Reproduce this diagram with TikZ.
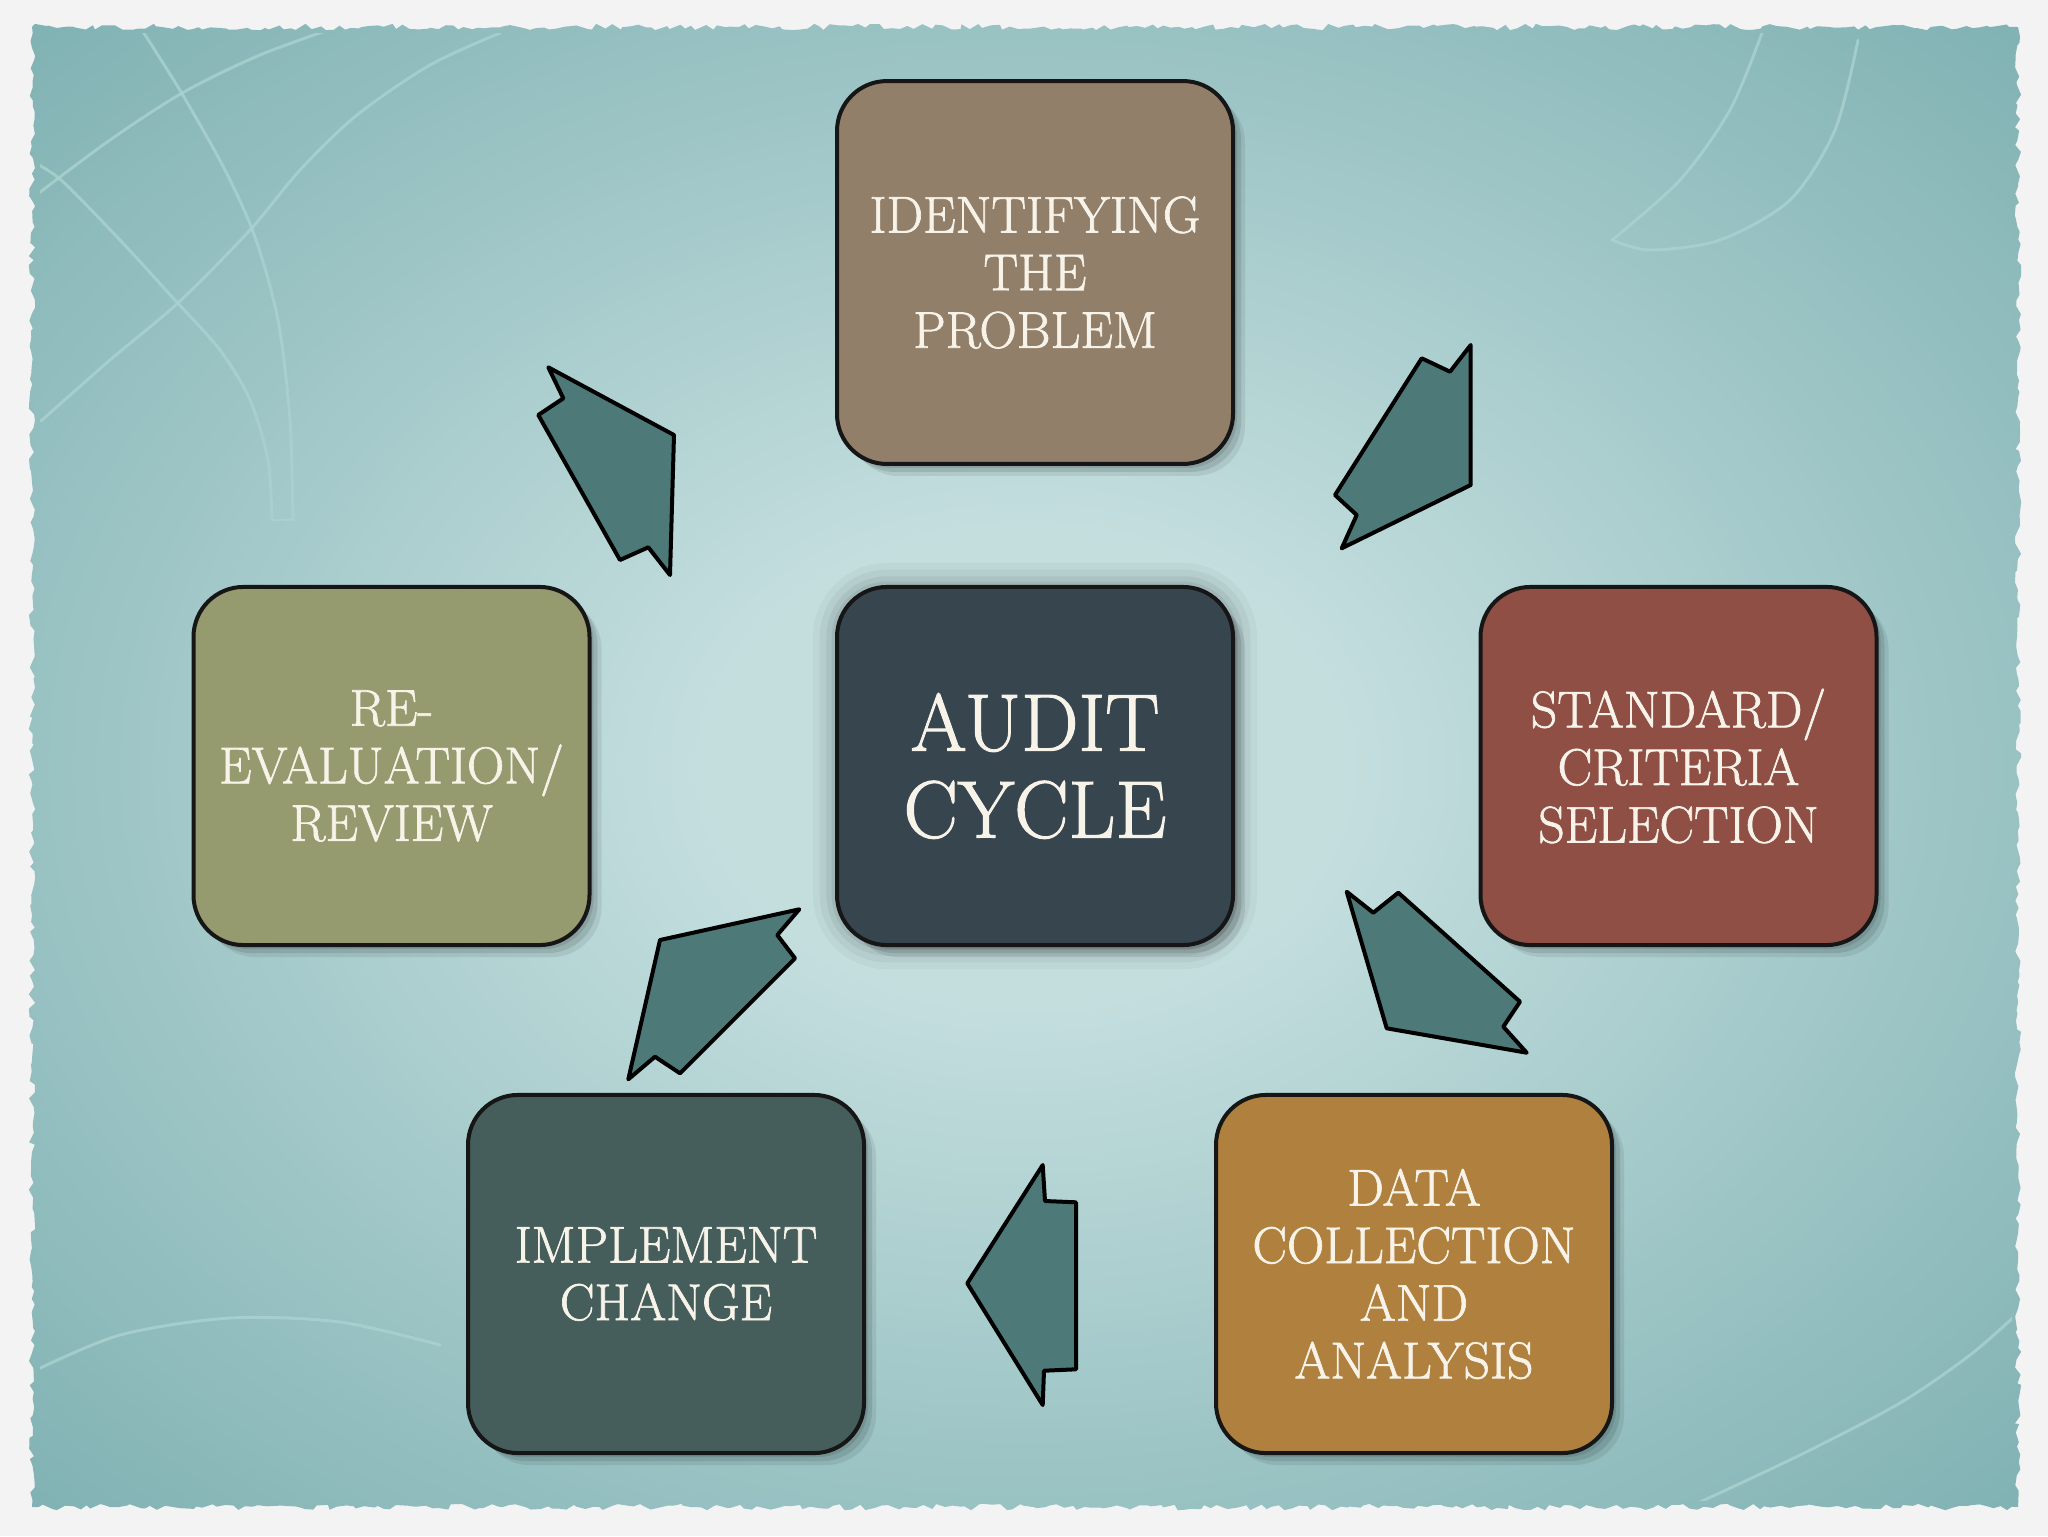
\documentclass[tikz,border=0pt]{standalone}
\usepackage{fontspec}
\usetikzlibrary{decorations.pathmorphing}
\newfontfamily\boxfont{Latin Modern Roman}[FakeBold=1.3]
\definecolor{outside}{RGB}{243,243,243}
\definecolor{papin}{RGB}{196,222,222}
\definecolor{papmid}{RGB}{150,192,193}
\definecolor{papout}{RGB}{104,162,164}
\definecolor{faint}{RGB}{170,210,209}
\definecolor{boxline}{RGB}{22,22,22}
\definecolor{txt}{RGB}{247,243,233}
\definecolor{cTop}{RGB}{145,127,106}
\definecolor{cMid}{RGB}{55,69,79}
\definecolor{cRight}{RGB}{143,79,69}
\definecolor{cLeft}{RGB}{149,155,110}
\definecolor{cBR}{RGB}{176,128,62}
\definecolor{cBL}{RGB}{69,94,91}
\definecolor{arrowfill}{RGB}{77,122,120}
\pgfdeclareradialshading{paper}{\pgfpoint{0bp}{0bp}}{color(0bp)=(papin); color(8bp)=(papin); color(26bp)=(papmid); color(46bp)=(papout); color(80bp)=(papout)}
\tikzset{
  softshadow/.style={
    preaction={fill=black, opacity=0.10, transform canvas={shift={(1.5pt,-1.5pt)}}},
    preaction={fill=black, opacity=0.10, transform canvas={shift={(3pt,-3pt)}}},
    preaction={fill=black, opacity=0.08, transform canvas={shift={(4.5pt,-4.5pt)}}}},
  box/.style={rectangle, rounded corners=18.75pt, minimum width=148.5pt,
    minimum height=134.3pt, draw=boxline, line width=1.5pt, text=txt,
    align=center, inner sep=0pt, font=\boxfont\fontsize{19.4}{21.6}\selectfont, softshadow},
  glow/.style={
    preaction={draw=black, line width=18pt, opacity=0.035},
    preaction={draw=black, line width=13pt, opacity=0.04},
    preaction={draw=black, line width=8pt, opacity=0.05},
    preaction={draw=black, line width=4pt, opacity=0.06}},
  arrowshape/.style={fill=arrowfill, draw=black, line width=1.5pt, line join=round},
  deco/.style={draw=faint, line width=1.1pt, opacity=0.8, line cap=round}
}
\begin{document}
\begin{tikzpicture}[x=0.375pt, y=-0.375pt]
\useasboundingbox (0,0) rectangle (2048,1536);
\fill[outside] (0,0) rectangle (2048,1536);
% paper
\pgfmathsetseed{7}
\shade[shading=paper, decorate, decoration={random steps, segment length=2.5pt, amplitude=1.2pt}]
  (32,27) rectangle (2018,1507);
% faint decorative strokes
\begin{scope}
\clip (40,33) rectangle (2012,1500);
\draw[deco] plot[smooth] coordinates {(31,199) (110,140) (184,92) (260,55) (337,27)};
\draw[deco] plot[smooth] coordinates {(41,421) (110,360) (179,302) (250,230) (300,170) (357,115) (430,65) (500,33)};
\draw[deco] plot[smooth] coordinates {(31,161) (61,180) (120,240) (173,298) (220,350) (250,400) (268,460) (272,520)};
\draw[deco] plot[smooth] coordinates {(140,27) (181,92) (225,170) (255,237) (278,320) (290,420) (293,520)};
\draw[deco] (272,520) -- (293,520);
\draw[deco] plot[smooth] coordinates {(1762,33) (1730,110) (1680,180) (1612,240)};
\draw[deco] plot[smooth] coordinates {(1858,40) (1835,130) (1790,200) (1720,240) (1650,250) (1612,240)};
\draw[deco] plot[smooth] coordinates {(1700,1502) (1800,1455) (1900,1403) (1970,1355) (2018,1313)};
\draw[deco] plot[smooth] coordinates {(32,1372) (120,1335) (230,1318) (340,1322) (440,1345)};
\end{scope}
% boxes
\node[box, fill=cTop, minimum height=143.6pt] (idp) at (1035,272.5) {IDENTIFYING\\THE\\PROBLEM};
\node[box, fill=cMid, glow, font=\boxfont\fontsize{30.5}{32.6}\selectfont] (aud) at (1035,766) {AUDIT\\CYCLE};
\node[box, fill=cRight] (std) at (1678.5,766) {STANDARD/\\CRITERIA\\SELECTION};
\node[box, fill=cLeft] (rev) at (391.5,766) {RE-\\EVALUATION/\\REVIEW};
\node[box, fill=cBR] (dca) at (1414,1274) {DATA\\COLLECTION\\AND\\ANALYSIS};
\node[box, fill=cBL] (imp) at (666,1274) {IMPLEMENT\\CHANGE};
% arrows
\filldraw[arrowshape] (1470.7,345) -- (1470.7,485) -- (1341.7,548.3) -- (1356.7,515)
  -- (1335,495) -- (1421.7,358.3) -- (1450,371.7) -- cycle;
\filldraw[arrowshape] (1346.7,891.7) -- (1373.3,912.7) -- (1398.3,892.7) -- (1520,1001.7)
  -- (1503.3,1026.7) -- (1526.7,1052.7) -- (1386.7,1028.3) -- cycle;
\filldraw[arrowshape] (1042.7,1165) -- (1045,1201) -- (1076,1202.3) -- (1076,1369.3)
  -- (1044,1370.7) -- (1042.7,1405) -- (967.3,1283.3) -- cycle;
\filldraw[arrowshape] (799.3,909.3) -- (777.3,935) -- (795,958.3) -- (680,1073.3)
  -- (655,1056.7) -- (628.3,1079.3) -- (660,940) -- cycle;
\filldraw[arrowshape] (548.3,367.3) -- (563.3,398.3) -- (538.3,415) -- (620,560)
  -- (648.3,547.3) -- (670,575) -- (674,435) -- cycle;
\end{tikzpicture}
\end{document}
